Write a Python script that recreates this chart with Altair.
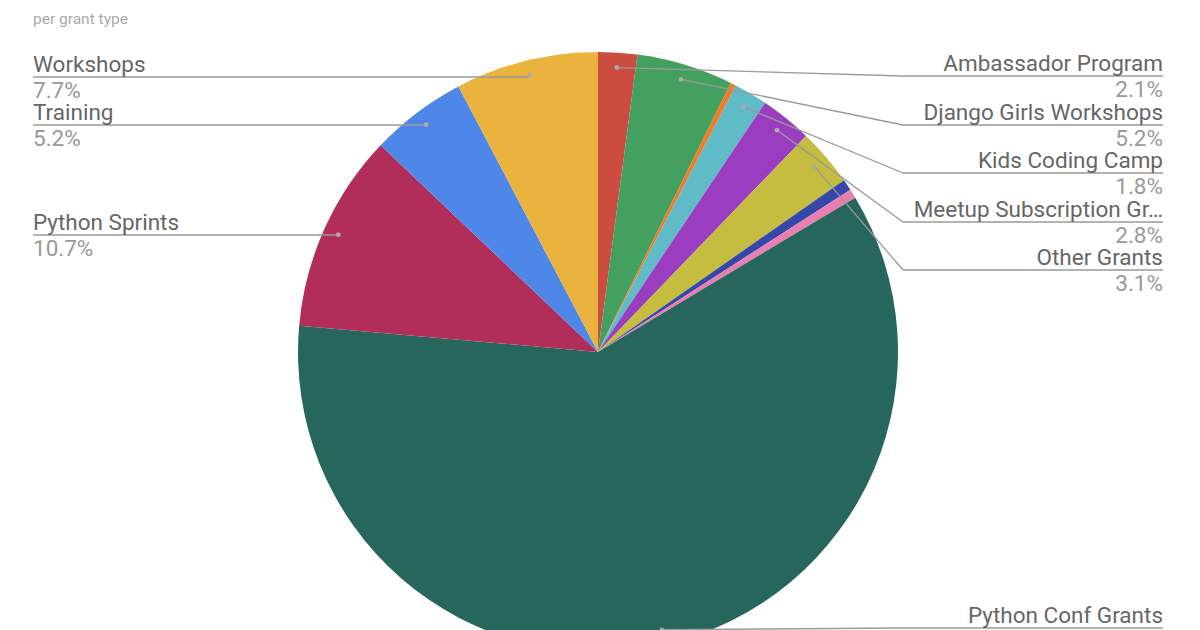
import pandas as pd
import altair as alt

# Share of grants per grant type (percent), clockwise from 12 o'clock
categories = [
    "Ambassador Program", "Django Girls Workshops", "Unlabelled A",
    "Kids Coding Camp", "Meetup Subscription Gr…", "Other Grants",
    "Unlabelled B", "Unlabelled C", "Python Conf Grants",
    "Python Sprints", "Training", "Workshops",
]
shares = [2.1, 5.2, 0.3, 1.8, 2.8, 3.1, 0.6, 0.5, 60.0, 10.7, 5.2, 7.7]
labelled = [True, True, False, True, True, True, False, False, True, True, True, True]

slice_colors = [
    "#cc4c3f", "#44a05e", "#f07a27", "#5fbbc6", "#9b3dc0", "#c5bd40",
    "#3547a8", "#e97fb0", "#27665c", "#b12e5a", "#4f87e8", "#eab33e",
]

# Layout: vertical slot of each outside label (chart pixels), None = no label
label_slot = [68, 117, None, 165, 214, 262, None, None, 620, 227, 117, 69]

W, H = 1184, 622
CX, CY, R = 590, 344, 300
DOT_R = 285
ELBOW_X, RIGHT_X, LEFT_X = 895, 1155, 25
FONT_SIZE = 22.5

df = pd.DataFrame({
    "idx": range(len(categories)),
    "category": categories,
    "value": shares,
    "labelled": labelled,
    "label_y": label_slot,
})

base = alt.Chart(df)

pie = base.mark_arc(radius=R).encode(
    theta=alt.Theta("value:Q", stack=True),
    order=alt.Order("idx:Q"),
    color=alt.Color("category:N", scale=alt.Scale(domain=categories, range=slice_colors), legend=None),
    x=alt.value(CX),
    y=alt.value(CY),
)

# Polar position of each slice's anchor dot, computed from the data
anchored = base.transform_window(
    cum="sum(value)", sort=[alt.SortField("idx")], frame=[None, 0]
).transform_joinaggregate(
    total="sum(value)"
).transform_filter(
    alt.datum.labelled
).transform_calculate(
    mid="(datum.cum - datum.value / 2) / datum.total * 2 * PI",
).transform_calculate(
    dot_x=f"{CX} + {DOT_R} * sin(datum.mid)",
    dot_y=f"{CY} - {DOT_R} * cos(datum.mid)",
    right="datum.mid < PI",
).transform_calculate(
    elbow_x=f"datum.right ? {ELBOW_X} : datum.dot_x",
    end_x=f"datum.right ? {RIGHT_X} : {LEFT_X}",
    pct="format(datum.value, '.1f') + '%'",
)

line_color = "#9a9a9a"

leg1 = anchored.mark_rule(color=line_color, strokeWidth=1.3).encode(
    x=alt.X("dot_x:Q", scale=None, axis=None),
    y=alt.Y("dot_y:Q", scale=None, axis=None),
    x2="elbow_x:Q",
    y2="label_y:Q",
)
leg2 = anchored.mark_rule(color=line_color, strokeWidth=1.3).encode(
    x=alt.X("elbow_x:Q", scale=None, axis=None),
    y=alt.Y("label_y:Q", scale=None, axis=None),
    x2="end_x:Q",
)
dots = anchored.mark_circle(color="#aaaaaa", size=22, opacity=1).encode(
    x=alt.X("dot_x:Q", scale=None, axis=None),
    y=alt.Y("dot_y:Q", scale=None, axis=None),
)


def label_layers(side, align):
    part = anchored.transform_filter(alt.datum.right if side == "right" else ~alt.datum.right)
    name = part.mark_text(align=align, baseline="alphabetic", dy=-5, fontSize=FONT_SIZE, color="#666666").encode(
        x=alt.X("end_x:Q", scale=None, axis=None),
        y=alt.Y("label_y:Q", scale=None, axis=None),
        text="category:N",
    )
    # the percentage sits under the line; skip it where it would fall below the page
    pct = part.transform_filter(f"datum.label_y + 25 < {H}").mark_text(
        align=align, baseline="alphabetic", dy=21, fontSize=FONT_SIZE, color="#999999"
    ).encode(
        x=alt.X("end_x:Q", scale=None, axis=None),
        y=alt.Y("label_y:Q", scale=None, axis=None),
        text="pct:N",
    )
    return [name, pct]


title = alt.Chart(pd.DataFrame({"t": ["per grant type"]})).mark_text(
    align="left", baseline="alphabetic", fontSize=15.5, color="#aaaaaa"
).encode(x=alt.value(LEFT_X), y=alt.value(16), text="t:N")

chart = alt.layer(
    pie, leg1, leg2, dots, *label_layers("right", "right"), *label_layers("left", "left"), title
).properties(
    width=W,
    height=H,
    autosize=alt.AutoSizeParams(type="none"),
    padding=0,
).configure(
    font="Roboto"
).configure_view(
    stroke=None
)

chart.save("out.html", embed_options={"renderer": "svg", "actions": False})
